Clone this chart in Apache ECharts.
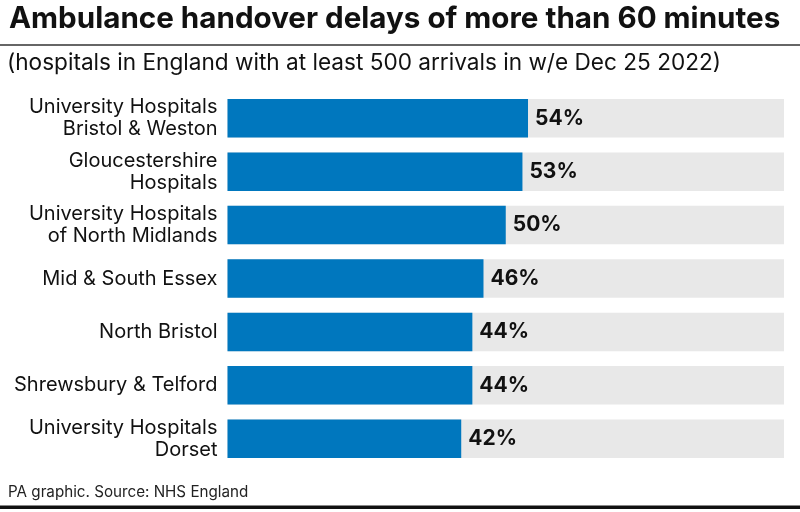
<!DOCTYPE html>
<html><head><meta charset="utf-8">
<script src="https://cdn.jsdelivr.net/npm/echarts@6/dist/echarts.min.js"></script>
<style>html,body{margin:0;padding:0;background:#fff}#c{width:800px;height:512px}</style>
</head><body><div id="c"></div>
<script>
const categories = [
  "University Hospitals\nBristol & Weston",
  "Gloucestershire\nHospitals",
  "University Hospitals\nof North Midlands",
  "Mid & South Essex",
  "North Bristol",
  "Shrewsbury & Telford",
  "University Hospitals\nDorset"
];
const values = [54, 53, 50, 46, 44, 44, 42];
const titleText = "Ambulance handover delays of more than 60 minutes";
const subtitleText = "(hospitals in England with at least 500 arrivals in w/e Dec 25 2022)";
const sourceText = "PA graphic. Source: NHS England";
const FONT = "Inter";

const chart = echarts.init(document.getElementById('c'), null, {renderer: 'canvas'});
chart.setOption({
  animation: false,
  backgroundColor: '#fff',
  title: [
    {text: titleText, left: 9, top: 4.5, padding: 0,
     textStyle: {fontFamily: FONT, fontWeight: 'bold', fontSize: 29.6, color: '#111'}},
    {text: subtitleText, left: 7, top: 52, padding: 0,
     textStyle: {fontFamily: FONT, fontWeight: 'normal', fontSize: 22.6, color: '#111'}},
    {text: sourceText, left: 8, top: 485, padding: 0,
     textStyle: {fontFamily: FONT, fontWeight: 'normal', fontSize: 15.2, color: '#222'}}
  ],
  graphic: [
    {type: 'rect', shape: {x: 0, y: 44.3, width: 800, height: 1.4}, style: {fill: '#333'}},
    {type: 'rect', shape: {x: 0, y: 505.5, width: 800, height: 3.5}, style: {fill: '#111'}}
  ],
  grid: {left: 227.5, right: 16, top: 91.5, bottom: 46.5},
  xAxis: {type: 'value', min: 0, max: 100, show: false},
  yAxis: {
    type: 'category', data: categories, inverse: true,
    axisLine: {show: false}, axisTick: {show: false},
    axisLabel: {margin: 10, fontFamily: FONT, fontSize: 20, color: '#111', lineHeight: 22, align: 'right'}
  },
  series: [{
    type: 'bar', data: values, barWidth: 38.5,
    itemStyle: {color: '#0077be'},
    showBackground: true,
    backgroundStyle: {color: '#e8e8e8'},
    label: {show: true, position: 'right', distance: 7, formatter: '{c}%',
      fontFamily: FONT, fontWeight: 'bold', fontSize: 21, color: '#111'}
  }]
});
</script></body></html>
